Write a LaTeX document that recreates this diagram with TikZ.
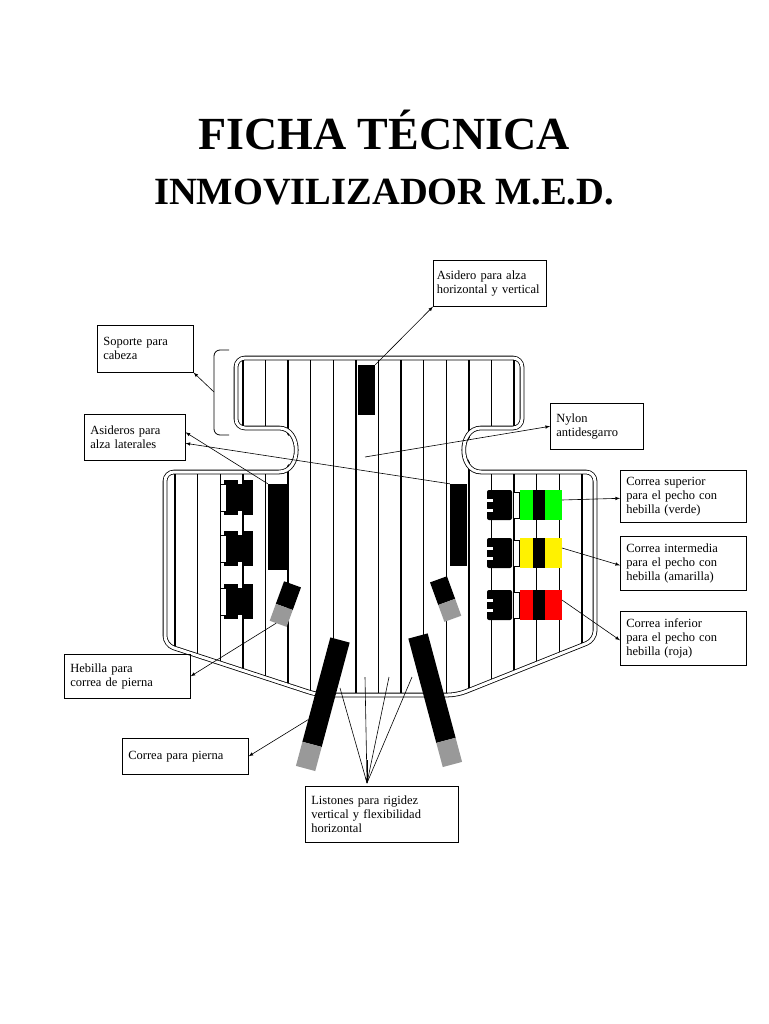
\documentclass[tikz,border=0pt]{standalone}
\usepackage{fontspec}
\setmainfont{Liberation Serif}
\begin{document}
\begin{tikzpicture}[x=1pt,y=-1pt,
  lbl/.style={draw,line width=0.6pt,align=left,anchor=north west,inner sep=0pt,minimum width=#1,text width=#1-12pt,font=\fontsize{12.5}{14}\selectfont},
  ptr/.style={line width=0.6pt,-latex},
  blk/.style={fill=black}]
\useasboundingbox (0,0) rectangle (768,1024);
\node[font=\bfseries\fontsize{46}{50}\selectfont] (t1) at (384,130) {FICHA TÉCNICA};
\node[font=\bfseries\fontsize{38.5}{42}\selectfont] (t2) at (384,192) {INMOVILIZADOR M.E.D.};
% board outline
\def\board{(236,358) -- (522,358) -- (522,428) -- (490,428) .. controls (458,428) and (458,472) .. (490,472) -- (595,472) -- (595,640) -- (457,695) -- (318,695) -- (165,645) -- (165,472) -- (270,472) .. controls (302,472) and (302,428) .. (270,428) -- (236,428) -- cycle}
\begin{scope}
\clip \board;
\foreach \i in {0,...,18} \draw[line width=1.4pt] (175+22.6*\i,300) -- (175+22.6*\i,720);
\end{scope}
\draw[rounded corners=9pt,line width=0.8pt,double=white,double distance=3pt] \board;
% head brace
\draw[line width=0.8pt,rounded corners=6pt] (229,350) -- (214,350) -- (214,435) -- (229,435);
\coordinate (br) at (214,392);
% handles
\node[blk,minimum width=17pt,minimum height=50pt,inner sep=0] (h0) at (366.5,390) {};
\node[blk,minimum width=19pt,minimum height=86pt,inner sep=0] (hl) at (277.5,527) {};
\node[blk,minimum width=17pt,minimum height=82pt,inner sep=0] (hr) at (458.5,525) {};
% left buckles
\foreach \y in {480,531,584}{
  \fill[black] (224,\y) rectangle (253,\y+35);
  \fill[white] (238,\y) rectangle (242,\y+4);
  \fill[white] (238,\y+31) rectangle (242,\y+35);
  \draw[fill=white,line width=0.6pt] (220,\y+4) rectangle (226,\y+31);
}
% right buckles
\foreach \y/\c/\n in {490/green/s,538/yellow/m,590/red/r}{
  \fill[black,rounded corners=2pt] (487,\y) rectangle (512,\y+30);
  \fill[white] (487,\y+9) rectangle (493,\y+12);
  \fill[white] (487,\y+19) rectangle (493,\y+22);
  \draw[fill=white,line width=0.6pt] (513,\y+2) rectangle (519,\y+28);
  \fill[\c] (520,\y) rectangle (562,\y+30);
  \fill[black] (533,\y) rectangle (545,\y+30);
  \coordinate (\n) at (562,\y+10);
}
% leg buckles
\begin{scope}[shift={(285,605)},rotate=-20]
  \fill[black] (-9,-22) rectangle (9,2);
  \fill[gray!80] (-9,2) rectangle (9,20);
  \coordinate (lb) at (-2,20);
\end{scope}
\begin{scope}[shift={(446,600)},rotate=20]
  \fill[black] (-9,-22) rectangle (9,2);
  \fill[gray!80] (-9,2) rectangle (9,20);
\end{scope}
% leg straps
\begin{scope}[shift={(340,640)},rotate=-15]
  \fill[black] (-10,0) rectangle (10,108);
  \fill[gray!80] (-10,108) rectangle (10,133);
  \coordinate (ls) at (-10,85);
\end{scope}
\begin{scope}[shift={(418,636)},rotate=15]
  \fill[black] (-10,0) rectangle (10,108);
  \fill[gray!80] (-10,108) rectangle (10,133);
\end{scope}
% labels
\node[lbl=113pt,minimum height=46pt,text width=106pt] (L1) at (433,260) {Asidero para alza\\horizontal y vertical};
\node[lbl=96pt,minimum height=47pt] (L2) at (97,325) {Soporte para\\cabeza};
\node[lbl=101pt,minimum height=46pt] (L3) at (84,414) {Asideros para\\alza laterales};
\node[lbl=93pt,minimum height=46pt] (L4) at (550,403) {Nylon\\antidesgarro};
\node[lbl=126pt,minimum height=52pt] (L5) at (620,470) {Correa superior\\para el pecho con\\hebilla (verde)};
\node[lbl=126pt,minimum height=54pt] (L6) at (620,536) {Correa intermedia\\para el pecho con\\hebilla (amarilla)};
\node[lbl=126pt,minimum height=54pt] (L7) at (620,611) {Correa inferior\\para el pecho con\\hebilla (roja)};
\node[lbl=126pt,minimum height=44pt] (L8) at (64,654) {Hebilla para\\correa de pierna};
\node[lbl=126pt,minimum height=36pt] (L9) at (122,738) {Correa para pierna};
\node[lbl=153pt,minimum height=56pt] (L10) at (305,786) {Listones para rigidez\\vertical y flexibilidad\\horizontal};
% connectors
\draw[ptr] (h0.north east) -- (L1.south west);
\draw[ptr] (br) -- (L2.south east);
\draw[ptr] (hr.north west) -- ([yshift=-6pt]L3.east);
\draw[ptr] (hl.north west) -- ([yshift=5pt]L3.east);
\coordinate (ny) at (365,457);
\draw[ptr] (ny) -- (L4.west);
\draw[ptr] (s) -- ([yshift=-2pt]L5.west);
\draw[ptr] (m) -- ([yshift=-2pt]L6.west);
\draw[ptr] (r) -- ([yshift=-2pt]L7.west);
\draw[ptr] (lb) -- (L8.east);
\draw[ptr] (ls) -- (L9.east);
\coordinate (lt) at (367,783);
\foreach \p in {(340,688),(365,677),(389,677),(412,677)} \draw[line width=0.6pt] (lt) -- \p;
\draw[ptr] (367,760) -- (lt);
\end{tikzpicture}
\end{document}
